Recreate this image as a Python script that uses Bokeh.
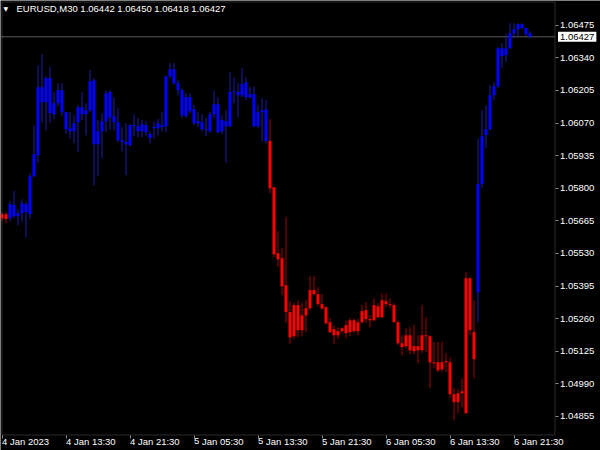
from bokeh.plotting import figure
from bokeh.models import FixedTicker, PrintfTickFormatter, Label, ColumnDataSource, BoxAnnotation
from bokeh.embed import file_html
from bokeh.resources import INLINE

symbol = "EURUSD,M30"

opens = [1.05692, 1.05672, 1.05676, 1.05730, 1.05684, 1.05696, 1.05734, 1.05692, 1.05850, 1.05937,
         1.06218, 1.06156, 1.06256, 1.06106, 1.06152, 1.06206, 1.06115, 1.06048, 1.06036, 1.06073,
         1.06135, 1.06106, 1.06123, 1.06247, 1.05982, 1.06036, 1.06077, 1.06198, 1.06098, 1.06073,
         1.05999, 1.05991, 1.05978, 1.06061, 1.06057, 1.06036, 1.06061, 1.06024, 1.06048, 1.06048,
         1.06061, 1.06057, 1.06264, 1.06293, 1.06235, 1.06206, 1.06098, 1.06177, 1.06127, 1.06069,
         1.06073, 1.06044, 1.06036, 1.06106, 1.06148, 1.06036, 1.06077, 1.06057, 1.06198, 1.06198,
         1.06185, 1.06177, 1.06189, 1.06189, 1.06057, 1.06115, 1.06127, 1.05995, 1.05804, 1.05531,
         1.05510, 1.05398, 1.05287, 1.05187, 1.05316, 1.05212, 1.05274, 1.05303, 1.05378, 1.05361,
         1.05320, 1.05307, 1.05245, 1.05216, 1.05191, 1.05208, 1.05200, 1.05204, 1.05253, 1.05208,
         1.05245, 1.05258, 1.05258, 1.05253, 1.05311, 1.05266, 1.05332, 1.05320, 1.05316, 1.05245,
         1.05158, 1.05146, 1.05191, 1.05125, 1.05146, 1.05129, 1.05191, 1.05187, 1.05079, 1.05079,
         1.05050, 1.05079, 1.05079, 1.04947, 1.04914, 1.04951, 1.04868, 1.05427, 1.05204, 1.05369,
         1.05817, 1.06019, 1.06044, 1.06185, 1.06222, 1.06380, 1.06351, 1.06380, 1.06442, 1.06458,
         1.06479, 1.06463, 1.06442]

highs = [1.05701, 1.05701, 1.05746, 1.05788, 1.05713, 1.05754, 1.05742, 1.05862, 1.06061, 1.06309,
         1.06355, 1.06264, 1.06301, 1.06198, 1.06235, 1.06235, 1.06115, 1.06115, 1.06102, 1.06144,
         1.06198, 1.06152, 1.06289, 1.06256, 1.06082, 1.06111, 1.06206, 1.06206, 1.06177, 1.06131,
         1.06053, 1.06069, 1.06065, 1.06106, 1.06090, 1.06082, 1.06077, 1.06036, 1.06077, 1.06086,
         1.06115, 1.06264, 1.06318, 1.06318, 1.06247, 1.06214, 1.06193, 1.06193, 1.06144, 1.06115,
         1.06106, 1.06090, 1.06115, 1.06202, 1.06177, 1.06102, 1.06123, 1.06280, 1.06260, 1.06235,
         1.06297, 1.06260, 1.06218, 1.06222, 1.06144, 1.06173, 1.06164, 1.06086, 1.05804, 1.05622,
         1.05552, 1.05680, 1.05332, 1.05324, 1.05336, 1.05324, 1.05336, 1.05436, 1.05436, 1.05390,
         1.05361, 1.05311, 1.05262, 1.05233, 1.05224, 1.05224, 1.05253, 1.05262, 1.05262, 1.05258,
         1.05316, 1.05328, 1.05274, 1.05344, 1.05324, 1.05365, 1.05365, 1.05344, 1.05324, 1.05253,
         1.05191, 1.05220, 1.05224, 1.05233, 1.05191, 1.05316, 1.05266, 1.05191, 1.05162, 1.05162,
         1.05166, 1.05117, 1.05100, 1.04972, 1.04968, 1.05013, 1.05452, 1.05431, 1.05336, 1.06003,
         1.06123, 1.06144, 1.06227, 1.06239, 1.06384, 1.06400, 1.06438, 1.06483, 1.06483, 1.06483,
         1.06483, 1.06463, 1.06450]

lows = [1.05663, 1.05655, 1.05663, 1.05676, 1.05647, 1.05663, 1.05597, 1.05672, 1.05846, 1.05904,
        1.06073, 1.06040, 1.06069, 1.06086, 1.06140, 1.06098, 1.06024, 1.06007, 1.05986, 1.05949,
        1.06082, 1.06019, 1.06115, 1.05812, 1.05850, 1.05924, 1.06032, 1.06044, 1.06040, 1.05991,
        1.05953, 1.05854, 1.05974, 1.06015, 1.06011, 1.06011, 1.06015, 1.05986, 1.06007, 1.06019,
        1.06036, 1.06032, 1.06256, 1.06227, 1.06185, 1.06090, 1.06090, 1.06111, 1.06061, 1.06053,
        1.06036, 1.06015, 1.06028, 1.06090, 1.06028, 1.06024, 1.05904, 1.06053, 1.06152, 1.06094,
        1.06177, 1.06164, 1.06173, 1.06053, 1.06048, 1.05995, 1.05986, 1.05779, 1.05514, 1.05473,
        1.05357, 1.05241, 1.05154, 1.05175, 1.05183, 1.05187, 1.05204, 1.05295, 1.05357, 1.05311,
        1.05295, 1.05237, 1.05200, 1.05154, 1.05175, 1.05200, 1.05179, 1.05187, 1.05200, 1.05191,
        1.05241, 1.05241, 1.05224, 1.05249, 1.05262, 1.05262, 1.05307, 1.05303, 1.05245, 1.05150,
        1.05108, 1.05137, 1.05112, 1.05112, 1.05075, 1.05117, 1.05121, 1.04972, 1.05055, 1.05038,
        1.05038, 1.05038, 1.04930, 1.04839, 1.04868, 1.04893, 1.04868, 1.05191, 1.05013, 1.05245,
        1.05800, 1.05966, 1.06040, 1.06164, 1.06214, 1.06297, 1.06322, 1.06376, 1.06421, 1.06429,
        1.06458, 1.06429, 1.06418]

closes = [1.05676, 1.05692, 1.05734, 1.05684, 1.05696, 1.05738, 1.05701, 1.05850, 1.05941, 1.06218,
          1.06156, 1.06256, 1.06111, 1.06152, 1.06206, 1.06115, 1.06044, 1.06036, 1.06069, 1.06135,
          1.06106, 1.06123, 1.06243, 1.05982, 1.06036, 1.06077, 1.06193, 1.06094, 1.06073, 1.05999,
          1.05991, 1.05982, 1.06061, 1.06057, 1.06036, 1.06065, 1.06032, 1.06007, 1.06053, 1.06069,
          1.06053, 1.06264, 1.06293, 1.06235, 1.06206, 1.06102, 1.06177, 1.06119, 1.06069, 1.06077,
          1.06044, 1.06040, 1.06106, 1.06148, 1.06032, 1.06082, 1.06057, 1.06198, 1.06202, 1.06185,
          1.06231, 1.06239, 1.06177, 1.06057, 1.06115, 1.06123, 1.05995, 1.05800, 1.05527, 1.05506,
          1.05394, 1.05287, 1.05183, 1.05316, 1.05212, 1.05274, 1.05303, 1.05378, 1.05361, 1.05320,
          1.05303, 1.05241, 1.05204, 1.05191, 1.05208, 1.05220, 1.05233, 1.05253, 1.05208, 1.05245,
          1.05291, 1.05295, 1.05253, 1.05316, 1.05266, 1.05336, 1.05320, 1.05316, 1.05245, 1.05158,
          1.05142, 1.05191, 1.05129, 1.05146, 1.05129, 1.05191, 1.05187, 1.05079, 1.05075, 1.05046,
          1.05079, 1.05084, 1.04947, 1.04914, 1.04951, 1.04959, 1.05427, 1.05212, 1.05092, 1.05817,
          1.06015, 1.06044, 1.06185, 1.06222, 1.06380, 1.06347, 1.06380, 1.06442, 1.06458, 1.06479,
          1.06463, 1.06438, 1.06427]

# candle colouring of the trend indicator: b = blue (up), r = red (down)
trend = list("rrbbbbbbbb"
             "bbbbbbbbbb"
             "bbbbbbbbbb"
             "bbbbbbbbbb"
             "bbbbbbbbbb"
             "bbbbbbbbbb"
             "bbbbbbbrrr"
             "rrrrrrrrrr"
             "rrrrrrrrrr"
             "rrrrrrrrrr"
             "rrrrrrrrrr"
             "rrrrrrrrrb"
             "bbbbbbbbbb"
             "bbb")

x_tick_bars = [0, 16, 32, 48, 64, 80, 96, 112, 128]
x_tick_labels = ["4 Jan 2023", "4 Jan 13:30", "4 Jan 21:30", "5 Jan 05:30", "5 Jan 13:30",
                 "5 Jan 21:30", "6 Jan 05:30", "6 Jan 13:30", "6 Jan 21:30"]
y_ticks = [1.06475, 1.06340, 1.06205, 1.06070, 1.05935, 1.05800, 1.05665,
           1.05530, 1.05395, 1.05260, 1.05125, 1.04990, 1.04855]

# ---- styling / layout ----
FONT = "Liberation Sans"
FSIZE = "9.5px"
GRAY = "#8c8c8c"
UP_BODY, DN_BODY = "#0000ff", "#ff0000"
UP_WICK, DN_WICK = "#1c1ca8", "#a00000"

W, H = 600, 450
PX_PER_BAR = 4.0
PX_PER_PRICE = 24150.0
X_LO = -1.5 / PX_PER_BAR                 # bar 0 centred 1.5px from the left edge
X_HI = X_LO + W / PX_PER_BAR
Y_HI = y_ticks[0] + 24.7 / PX_PER_PRICE  # first price tick 24.7px below the top
Y_LO = Y_HI - H / PX_PER_PRICE

def xpx(px):
    return X_LO + px / PX_PER_BAR

def ypx(px):
    return Y_HI - px / PX_PER_PRICE

CHART_L, CHART_T, CHART_R, CHART_B = 1.5, 1.5, 554.5, 434.5   # chart window border (pixels)

n = len(closes)
src = ColumnDataSource(dict(
    x=list(range(n)),
    top=[max(o, c) for o, c in zip(opens, closes)],
    bottom=[min(o, c) for o, c in zip(opens, closes)],
    high=highs,
    low=lows,
    bc=[UP_BODY if t == "b" else DN_BODY for t in trend],
    wc=[UP_WICK if t == "b" else DN_WICK for t in trend],
))

p = figure(width=W, height=H, x_range=(X_LO, X_HI), y_range=(Y_LO, Y_HI),
           y_axis_location="right", output_backend="svg", toolbar_location=None,
           background_fill_color="black", border_fill_color="black",
           min_border=0)
p.grid.visible = False
p.outline_line_color = None

# chart window border
p.add_layout(BoxAnnotation(left=xpx(CHART_L), right=xpx(CHART_R), top=ypx(CHART_T), bottom=ypx(CHART_B),
                           fill_alpha=0, line_color=GRAY, line_width=1))

# current price line
last = closes[-1]
p.segment(x0=[X_LO], y0=[last], x1=[xpx(CHART_R)], y1=[last], line_color="#5a5a5a", line_width=1)

p.segment(x0="x", y0="high", x1="x", y1="low", source=src, line_color="wc", line_width=1)
p.vbar(x="x", width=0.75, top="top", bottom="bottom", source=src,
       fill_color="bc", line_color=None)

for ax in (p.xaxis[0], p.yaxis[0]):
    ax.axis_line_color = None
    ax.major_tick_line_color = GRAY
    ax.minor_tick_line_color = None
    ax.major_tick_in = 0
    ax.major_tick_out = 3
    ax.major_label_text_color = "white"
    ax.major_label_text_font = FONT
    ax.major_label_text_font_size = FSIZE

p.xaxis.fixed_location = ypx(CHART_B)
p.xaxis.ticker = FixedTicker(ticks=x_tick_bars)
p.xaxis.major_label_overrides = {b: l for b, l in zip(x_tick_bars, x_tick_labels)}
p.xaxis.major_label_orientation = -1e-6
p.xaxis.major_label_standoff = 3

p.yaxis.fixed_location = xpx(CHART_R)
p.yaxis.ticker = FixedTicker(ticks=y_ticks)
p.yaxis.formatter = PrintfTickFormatter(format="%.5f")
p.yaxis.major_label_standoff = 2

# price box on the price scale
p.add_layout(Label(x=xpx(CHART_R), y=last, text=f"{last:.5f}", x_offset=3,
                   text_align="left", text_baseline="middle", text_color="black",
                   text_font=FONT, text_font_size=FSIZE,
                   background_fill_color="white", padding=2))

# header
header = f"{symbol}  {opens[-1]:.5f} {highs[-1]:.5f} {lows[-1]:.5f} {closes[-1]:.5f}"
p.add_layout(Label(x=xpx(16), y=ypx(8), text=header,
                   text_align="left", text_baseline="middle", text_color="white",
                   text_font=FONT, text_font_size=FSIZE))
p.add_layout(Label(x=xpx(3), y=ypx(7.5), text="\u25bc",
                   text_align="left", text_baseline="middle", text_color="white",
                   text_font="DejaVu Sans", text_font_size="6px"))

open("out.html", "w").write(file_html(p, INLINE))
